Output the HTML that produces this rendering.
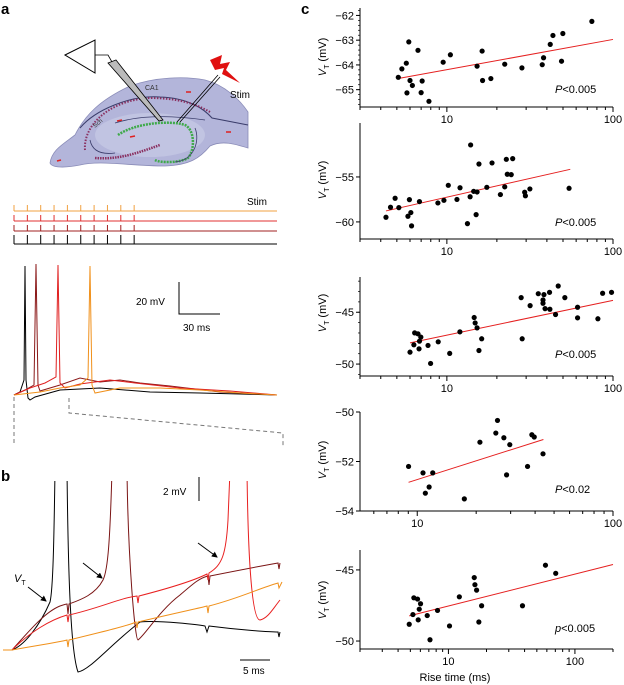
<!DOCTYPE html>
<html><head><meta charset="utf-8"><style>
body{margin:0;background:#fff;}
svg{display:block;font-family:"Liberation Sans",sans-serif;}
</style></head><body>
<svg id="fig" width="624" height="685" viewBox="0 0 624 685">
<text x="1" y="14" font-size="15" font-weight="bold">a</text>
<text x="1" y="481" font-size="15" font-weight="bold">b</text>
<text x="301" y="14" font-size="15" font-weight="bold">c</text>

<g>
<path d="M50,163 C52,150 62,145 75,135 C85,115 100,100 130,86 C155,77 185,76 205,80 C225,85 240,100 248,112 L248,148 C235,144 222,140 210,146 C200,158 190,165 165,166 C130,166 100,160 80,165 C65,168 52,168 50,163 Z" fill="#b3b5da" stroke="#8a8cb8" stroke-width="0.8"/>
<ellipse cx="150" cy="135" rx="55" ry="22" fill="#c8cae6" opacity="0.7"/>
<path d="M80,128 C95,110 130,95 160,97 C190,98 205,110 212,118 L248,125" fill="none" stroke="#3a3c6a" stroke-width="1"/>
<path d="M85,150 C83,125 110,100 150,98 C175,98 195,103 210,112" fill="none" stroke="#8a3060" stroke-width="2" stroke-dasharray="1.5 1.5"/>
<path d="M95,158 C120,160 140,152 160,145" fill="none" stroke="#8a3060" stroke-width="2.5" stroke-dasharray="1.5 1"/>
<path d="M118,135 C135,123 170,120 185,125 C195,130 195,150 188,158 C180,163 160,163 155,160" fill="none" stroke="#3faa4a" stroke-width="2.5" stroke-dasharray="2 1"/>
<path d="M90,140 C92,150 100,155 115,153" fill="none" stroke="#3a3c6a" stroke-width="0.8"/>
<path d="M115,123 C140,115 170,115 205,120" fill="none" stroke="#3a3c6a" stroke-width="0.8"/>
<path d="M175,162 C195,160 200,140 195,128" fill="none" stroke="#3a3c6a" stroke-width="0.8"/>
<text x="145" y="90" font-size="7" fill="#333">CA1</text>
<text x="95" y="128" font-size="6" fill="#333" transform="rotate(-40 95 128)">Sch</text>
<path d="M65,55 L95,40 L95,73 Z" fill="#fff" stroke="#000" stroke-width="1"/>
<path d="M95,55 L108,55 L112,62" fill="none" stroke="#000" stroke-width="0.8"/>
<path d="M108,63 L116,60 L163,120 L159,121 Z" fill="#bbb" stroke="#000" stroke-width="0.8"/>
<path d="M177,122 L218,75 M180,122 L220,77" stroke="#000" stroke-width="0.8"/>
<path d="M210,60 L222,55 L220,64 L230,62 L226,70 L240,83 L222,74 L224,68 L215,70 Z" fill="#e01010"/>
<text x="230" y="98" font-size="10">Stim</text>
<path d="M186,92 l5,0 M231,132 l-5,0 M117,121 l5,-1 M130,137 l5,-1 M57,161 l4,-1" stroke="#e02020" stroke-width="1.5"/>
</g>

<g id="stim"></g>
<text x="247" y="205" font-size="10">Stim</text>

<g fill="none" stroke-width="1">
<path d="M14,395 L20,392 L24,380 L25,266 L26,380 L28,398 L30,400 L35,397 L60,390 L100,388 L150,392 L200,393 L277,395" stroke="#000"/>
<path d="M14,395 L25,390 L34,385 L36,264 L38,385 L40,391 L60,385 L80,378 L100,382 L120,380 L140,383 L170,386 L220,392 L277,395" stroke="#8a1818"/>
<path d="M14,395 L30,388 L45,383 L56,377 L58,265 L60,383 L65,388 L80,384 L110,380 L135,383 L180,388 L230,391 L277,395" stroke="#e02020"/>
<path d="M14,395 L40,392 L60,388 L80,385 L88,378 L90,266 L92,385 L95,393 L120,388 L160,388 L200,390 L240,393 L277,395" stroke="#f0901a"/>
</g>
<g>
<path d="M179,282 L179,314 L220,314" fill="none" stroke="#000" stroke-width="1"/>
<text x="136" y="305" font-size="10">20 mV</text>
<text x="183" y="331" font-size="10">30 ms</text>
</g>
<path d="M14,397 L14,446 M69,398 L69,413 L283,433 L283,446" fill="none" stroke="#777" stroke-width="1" stroke-dasharray="4 3"/>

<defs><clipPath id="bclip"><rect x="0" y="481" width="300" height="204"/></clipPath>
<marker id="ah" markerWidth="6" markerHeight="6" refX="5" refY="3" orient="auto"><path d="M0,0 L6,3 L0,6 Z" fill="#000"/></marker></defs>
<g clip-path="url(#bclip)" fill="none" stroke-width="1">
<path d="M3,650 L12,650 C25,645 40,625 50,602 C53,590 54,540 55,470 M67,470 C68,560 70,650 78,672 C90,670 110,645 140,622 C160,620 200,625 205,626 L207,632 L209,626 C240,630 270,632 278,632 L279,637 L280,632" stroke="#000"/>
<path d="M3,650 L12,650 C30,630 45,612 60,606 C63,605 66,604 67,604 L68,614 L69,604 C80,600 95,595 103,580 C108,570 110,540 112,470 M127,470 C128,560 135,640 138,640 C145,635 160,610 180,595 C195,582 200,578 208,576 L209,585 L210,576 C240,570 250,568 278,563 L279,569 L280,563" stroke="#7a1414"/>
<path d="M3,650 L12,650 C30,632 50,620 67,615 L68,622 L69,615 C100,608 120,598 137,596 L138,603 L139,596 C170,588 195,580 207,574 L208,580 L209,573 C222,565 226,555 228,520 L230,470 M247,470 C248,560 252,620 260,620 C268,618 272,610 280,600" stroke="#e82020"/>
<path d="M3,650 L12,650 C40,645 60,642 67,640 L68,647 L69,640 C110,630 130,625 136,622 L137,628 L138,622 C180,612 200,608 207,606 L208,613 L209,606 C240,598 260,588 278,583 L279,588 L282,582" stroke="#f0901a"/>
</g>
<g>
<text x="14" y="582" font-size="11" font-style="italic">V<tspan font-size="7" dy="3" font-style="normal">T</tspan></text>
<line x1="28" y1="587" x2="46" y2="601" stroke="#000" marker-end="url(#ah)"/>
<line x1="83" y1="563" x2="102" y2="578" stroke="#000" marker-end="url(#ah)"/>
<line x1="198" y1="543" x2="217" y2="557" stroke="#000" marker-end="url(#ah)"/>
</g>
<g>
<line x1="199" y1="477" x2="199" y2="501" stroke="#000"/>
<text x="163" y="495" font-size="10">2 mV</text>
<line x1="240" y1="660" x2="270" y2="660" stroke="#000"/>
<text x="243" y="674" font-size="10">5 ms</text>
</g>

<g id="plots"></g>
<text x="455" y="681" font-size="11" text-anchor="middle">Rise time (ms)</text>
</svg>
<script>
var stimYs=[211,221,231,244];
var stimColors=['#f0a040','#e03030','#a02020','#000'];
var stimTimes=[0,1,2,3,4,5,6,7,8,9];

var p1x=[5.1,5.36,5.7,5.9,5.75,6.0,6.2,6.7,7.0,7.1,7.8,9.5,10.5,15.2,16.3,16.4,18.4,22.3,28.3,37.5,38.2,41.9,43.5,49.0,49.9,74.6];
var p1y=[-64.5,-64.16,-63.93,-63.07,-65.13,-64.63,-64.83,-63.41,-65.12,-64.65,-65.47,-63.89,-63.59,-64.05,-63.44,-64.63,-64.55,-63.97,-64.12,-63.99,-63.71,-63.17,-62.81,-63.85,-62.73,-62.24];
var p1fitX=[5.1,100], p1fitY=[-64.55,-62.97];
var p2x=[4.3,4.58,4.88,5.14,5.95,5.83,6.07,6.13,6.84,8.83,9.6,10.2,11.5,12.0,13.8,13.9,14.5,15.0,15.2,15.6,13.3,17.4,18.7,21.0,22.3,22.8,23.1,24.4,24.9,29.4,29.7,31.6,54.4];
var p2y=[-59.48,-58.37,-57.37,-58.41,-57.52,-59.37,-58.96,-60.44,-57.74,-57.89,-57.6,-55.93,-57.5,-56.2,-57.2,-51.44,-56.6,-59.19,-56.67,-53.56,-60.19,-56.15,-53.44,-56.96,-56.1,-53.04,-54.7,-54.74,-52.96,-56.7,-57.1,-56.33,-56.26];
var p2fitX=[4.3,55.3], p2fitY=[-58.78,-54.15];
var p3x=[6.0,6.33,6.4,6.7,6.8,6.84,6.97,7.7,7.98,8.87,10.4,11.98,14.6,14.8,15.2,15.6,16.2,28.0,28.4,31.7,35.5,37.9,37.9,38.4,39.0,41.5,41.7,45.1,46.8,51.3,61.2,61.2,81.1,86.6,98.0];
var p3y=[-48.85,-48.14,-46.99,-47.08,-48.53,-47.79,-47.4,-48.2,-49.94,-47.85,-48.97,-46.89,-45.51,-46.03,-46.51,-48.69,-47.56,-43.59,-47.56,-44.36,-43.21,-43.82,-44.13,-43.3,-44.65,-43.08,-44.71,-45.22,-42.47,-43.59,-44.52,-45.54,-45.63,-43.17,-43.08];
var p3fitX=[6.0,100], p3fitY=[-47.95,-43.85];
var p4x=[9.03,10.7,12.0,11.5,11.0,17.4,20.9,25.2,25.7,27.7,28.6,29.7,36.6,38.5,39.6,43.9];
var p4y=[-52.2,-52.46,-52.46,-53.03,-53.28,-53.51,-51.22,-50.85,-50.34,-51.04,-52.54,-51.32,-52.2,-50.92,-51.01,-51.69];
var p4fitX=[9.03,44.1], p4fitY=[-52.84,-51.11];
var p5x=[4.9,5.24,5.33,5.7,5.77,5.88,6.02,6.8,7.15,8.2,10.2,12.2,16.0,16.2,16.7,17.4,18.3,38.5,58.5,70.5];
var p5y=[-48.82,-48.14,-46.96,-47.05,-48.51,-47.76,-47.38,-48.21,-49.91,-47.85,-48.94,-46.89,-45.54,-46.04,-46.42,-48.66,-47.52,-47.52,-44.67,-45.24];
var p5fitX=[4.9,200], p5fitY=[-48.23,-44.62];
var yTicks1=[-62,-63,-64,-65], yTicks2=[-55,-60], yTicks3=[-45,-50], yTicks4=[-50,-52,-54], yTicks5=[-45,-50];
var xTickLabels1=[10,100], xTickLabels5=[10,100];
var pLabels=['P<0.005','P<0.005','P<0.005','P<0.02','p<0.005'];

var NS='http://www.w3.org/2000/svg';
function mk(tag,attrs,parent){var e=document.createElementNS(NS,tag);for(var k in attrs)e.setAttribute(k,attrs[k]);parent.appendChild(e);return e;}

var sg=document.getElementById('stim');
for(var i=0;i<stimYs.length;i++){
  var y=stimYs[i];
  var ln=mk('line',{x1:14,x2:277,y1:y,y2:y,stroke:stimColors[i],'stroke-width':1},sg);
  
  
  for(var j=0;j<stimTimes.length;j++){
    var tx=14+stimTimes[j]*13.35;
    var tk=mk('line',{x1:tx,x2:tx,y1:y,y2:y-(i==3?9:6),stroke:stimColors[i],'stroke-width':1},sg);
    
    
  }
}

var plotsG=document.getElementById('plots');
var specs=[
 {x:p1x,y:p1y,fx:p1fitX,fy:p1fitY,xd:[3,100],top:8,bot:107,yd:[-65.7,-61.7],yt:yTicks1,xl:xTickLabels1,ly:57,py:93,minorY:0.2},
 {x:p2x,y:p2y,fx:p2fitX,fy:p2fitY,xd:[3,100],top:123,bot:239,yd:[-61.9,-49],yt:yTicks2,xl:xTickLabels1,ly:180,py:226,minorY:0},
 {x:p3x,y:p3y,fx:p3fitX,fy:p3fitY,xd:[3,100],top:277,bot:376,yd:[-51.15,-41.6],yt:yTicks3,xl:xTickLabels1,ly:313,py:358,minorY:1},
 {x:p4x,y:p4y,fx:p4fitX,fy:p4fitY,xd:[5.1,100],top:412,bot:511,yd:[-54,-50],yt:yTicks4,xl:xTickLabels1,ly:460,py:493,minorY:0},
 {x:p5x,y:p5y,fx:p5fitX,fy:p5fitY,xd:[2,200],top:550,bot:649,yd:[-50.56,-43.6],yt:yTicks5,xl:xTickLabels5,ly:600,py:632,minorY:0}
];
var L=360,R=613;
specs.forEach(function(s,idx){
  var g=mk('g',{},plotsG);
  
  
  var lx0=Math.log10(s.xd[0]),lx1=Math.log10(s.xd[1]);
  function X(v){return L+(Math.log10(v)-lx0)/(lx1-lx0)*(R-L);}
  function Y(v){return s.bot-(v-s.yd[0])/(s.yd[1]-s.yd[0])*(s.bot-s.top);}
  var ax=mk('path',{d:'M'+L+','+s.top+' L'+L+','+s.bot+' L'+R+','+s.bot,fill:'none',stroke:'#000','stroke-width':1},g);
  
  
  for(var d=Math.floor(lx0);d<=Math.ceil(lx1);d++){
    for(var m=1;m<10;m++){
      var v=m*Math.pow(10,d);
      if(v<s.xd[0]*0.999||v>s.xd[1]*1.001)continue;
      var px=X(v);var len=(m==1)?5:3;
      var t=mk('line',{x1:px,x2:px,y1:s.bot,y2:s.bot+len,stroke:'#000','stroke-width':1},g);
      
      
    }
  }
  s.xl.forEach(function(v){
    var t=mk('text',{x:X(v),y:s.bot+16,'font-size':11,'text-anchor':'middle'},g);
    t.textContent=v;
    
    
  });
  s.yt.forEach(function(v){
    var py=Y(v);
    var t=mk('line',{x1:L-4,x2:L,y1:py,y2:py,stroke:'#000','stroke-width':1},g);
    
    
    var tt=mk('text',{x:L-6,y:py+4,'font-size':11,'text-anchor':'end'},g);
    tt.textContent='\u2212'+Math.abs(v);
    
    
  });
  if(s.minorY){
    for(var v=Math.ceil(s.yd[0]/s.minorY)*s.minorY;v<=s.yd[1];v+=s.minorY){
      var mt=mk('line',{x1:L-2,x2:L,y1:Y(v),y2:Y(v),stroke:'#000','stroke-width':0.7},g);
      
      
    }
  }
  var yl=mk('text',{x:0,y:0,'font-size':11,'text-anchor':'middle',transform:'translate(326,'+s.ly+') rotate(-90)'},g);
  yl.innerHTML='<tspan font-style="italic">V</tspan><tspan font-size="7" dy="3">T</tspan><tspan dy="-3"> (mV)</tspan>';
  
  
  var fl=mk('line',{x1:X(s.fx[0]),y1:Y(s.fy[0]),x2:X(s.fx[1]),y2:Y(s.fy[1]),stroke:'#e52020','stroke-width':1},g);
  
  
  for(var i=0;i<s.x.length;i++){
    var c=mk('circle',{cx:X(s.x[i]),cy:Y(s.y[i]),r:2.6,fill:'#000'},g);
    
    
  }
  var pl=mk('text',{x:555,y:s.py,'font-size':11},g);
  var lab=pLabels[idx];
  pl.innerHTML='<tspan font-style="italic">'+lab[0]+'</tspan>'+lab.slice(1).replace('<','&lt;');
  
  
});
</script>
</body></html>
